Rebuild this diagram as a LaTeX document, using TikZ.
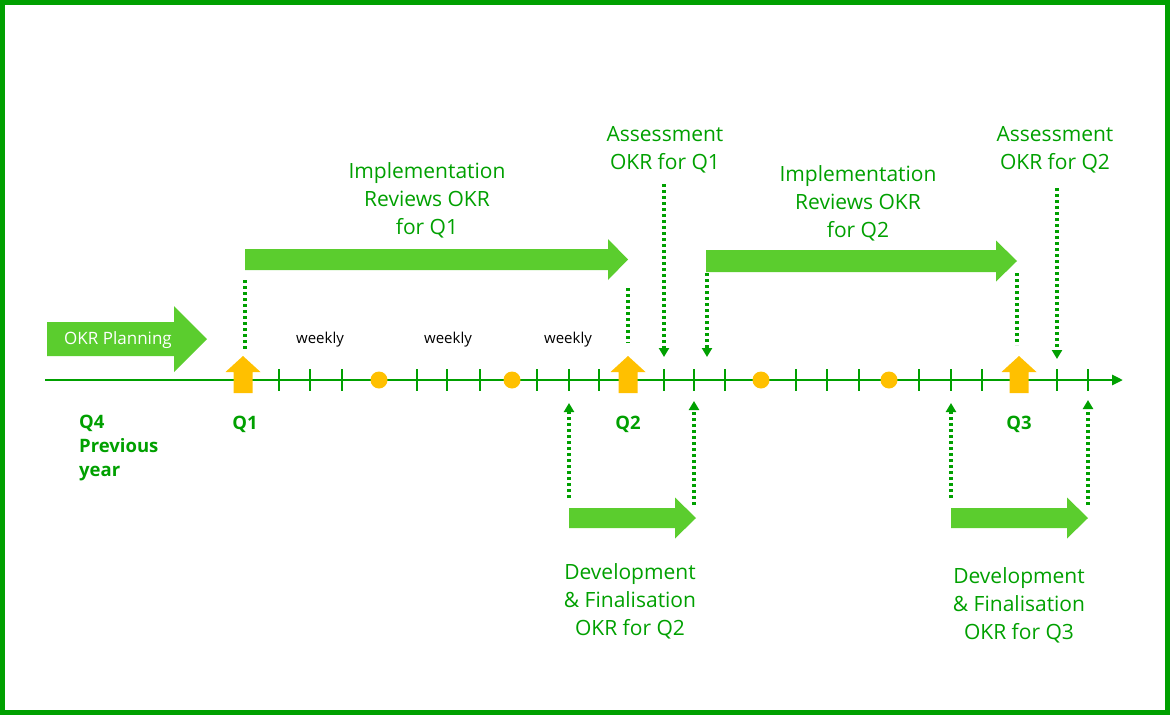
\documentclass[tikz,border=0pt]{standalone}
\usepackage{fontspec}
\setmainfont{Open Sans}
\usetikzlibrary{arrows.meta}
\definecolor{dgreen}{HTML}{00A000}
\definecolor{lgreen}{HTML}{5BCD2E}
\definecolor{qorange}{HTML}{FFC000}
\newcommand\fatarrow[6]{\fill[fat] (#1,#3-#4) -- (#2-#6,#3-#4) -- (#2-#6,#3-#5) -- (#2,#3) -- (#2-#6,#3+#5) -- (#2-#6,#3+#4) -- (#1,#3+#4) -- cycle;}
\begin{document}
\begin{tikzpicture}[x=1pt,y=-1pt,
  big/.style={text=dgreen,font=\fontsize{21}{28}\selectfont,align=center,inner sep=0pt},
  qlab/.style={text=dgreen,font=\fontsize{18.5}{24}\selectfont\bfseries,inner sep=0pt},
  wk/.style={font=\fontsize{15}{18}\selectfont,inner sep=0pt},
  tickmark/.style={dgreen,line width=2.5pt},
  dots/.style={dgreen,line width=3.2pt,dash pattern=on 3pt off 3pt},
  dotarr/.style={dots,-{Triangle[length=9pt,width=10pt]}},
  fat/.style={fill=lgreen,draw=none},
  qarr/.style={fill=qorange,draw=none},
  milestone/.style={circle,fill=qorange,minimum size=17pt,inner sep=0pt}]
\useasboundingbox (0,0) rectangle (1170,715);
\draw[dgreen,line width=5pt] (2.5,2.5) rectangle (1167.5,712.5);
% axis
\coordinate (axstart) at (45,380);
\coordinate (axend) at (1123,380);
\draw[dgreen,line width=2.8pt,-{Triangle[length=11pt,width=10pt]}] (axstart) -- (axend);
\foreach \x in {279,310,342,417,447,480,537,569,599,664,694,725,796,827,859,919,951,982,1057,1088}
  \draw[tickmark] (\x,369) -- (\x,391);
\foreach \x/\n in {379/m1,512/m2,761/m3,889/m4}
  \node[milestone] (\n) at (\x,380) {};
\foreach \x in {243,628,1019}
  \fill[qarr] (\x,356) -- (\x+17.5,372) -- (\x+9.5,372) -- (\x+9.5,393) -- (\x-9.5,393) -- (\x-9.5,372) -- (\x-17.5,372) -- cycle;
% fat arrows
\fatarrow{47}{207}{339}{17}{33}{33}
\node[text=white,font=\fontsize{17}{20}\selectfont,inner sep=0pt] (plan) at (118,340) {OKR Planning};
\fatarrow{245}{628}{259.5}{10.5}{20.5}{20}
\fatarrow{706}{1017}{261}{11}{20.5}{21}
\fatarrow{569}{696}{518}{10}{20.5}{21}
\fatarrow{951}{1088}{518}{10}{20.5}{21}
% dotted connectors
\coordinate (i1a) at (245,280); \coordinate (i1b) at (245,350);
\coordinate (i1c) at (628,288); \coordinate (i1d) at (628,343);
\coordinate (a1a) at (664,184); \coordinate (a1b) at (664,357);
\coordinate (i2a) at (707,273); \coordinate (i2b) at (707,357);
\coordinate (i2c) at (1017,273); \coordinate (i2d) at (1017,345);
\coordinate (a2a) at (1057,188); \coordinate (a2b) at (1057,359);
\coordinate (d2a) at (569,498); \coordinate (d2b) at (569,403);
\coordinate (d2c) at (694,505); \coordinate (d2d) at (694,401);
\coordinate (d3a) at (951,498); \coordinate (d3b) at (951,403);
\coordinate (d3c) at (1088,505); \coordinate (d3d) at (1088,400);
\draw[dots] (i1a) -- (i1b);
\draw[dots] (i1c) -- (i1d);
\draw[dotarr] (a1a) -- (a1b);
\draw[dotarr] (i2a) -- (i2b);
\draw[dots] (i2c) -- (i2d);
\draw[dotarr] (a2a) -- (a2b);
\draw[dotarr] (d2a) -- (d2b);
\draw[dotarr] (d2c) -- (d2d);
\draw[dotarr] (d3a) -- (d3b);
\draw[dotarr] (d3c) -- (d3d);
% texts
\node[big] (impl1) at (427,200) {Implementation\\Reviews OKR\\for Q1};
\node[big] (ass1) at (665,150) {Assessment\\OKR for Q1};
\node[big] (impl2) at (858,203) {Implementation\\Reviews OKR\\for Q2};
\node[big] (ass2) at (1055,150) {Assessment\\OKR for Q2};
\node[big] (dev2) at (630,601) {Development\\\& Finalisation\\OKR for Q2};
\node[big] (dev3) at (1019,605) {Development\\\& Finalisation\\OKR for Q3};
\node[wk] (w1) at (320,340) {weekly};
\node[wk] (w2) at (448,340) {weekly};
\node[wk] (w3) at (568,340) {weekly};
\node[qlab] (q1) at (245,424) {Q1};
\node[qlab] (q2) at (628,424) {Q2};
\node[qlab] (q3) at (1019,424) {Q3};
\node[qlab,align=left,anchor=west] (q4) at (79,448) {Q4\\Previous\\year};
\end{tikzpicture}
\end{document}
